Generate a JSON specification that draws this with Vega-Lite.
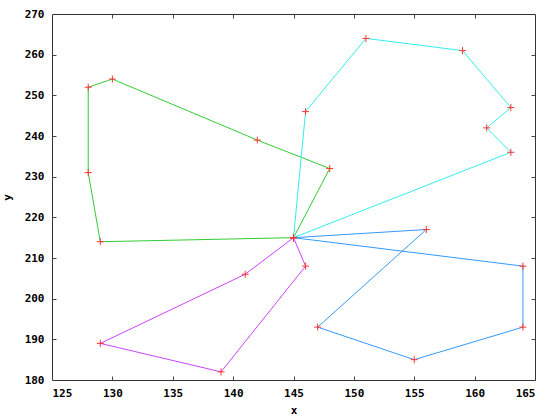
{
  "$schema": "https://vega.github.io/schema/vega-lite/v6.json",
  "autosize": "none",
  "width": 483,
  "height": 366,
  "padding": {"left": 52, "top": 14, "right": 15, "bottom": 39},
  "background": "white",
  "config": {
    "view": {"stroke": null},
    "axis": {"grid": false, "labelFont": "DejaVu Sans Mono", "labelFontWeight": "bold", "labelFontSize": 11, "labelColor": "#000", "titleFont": "DejaVu Sans Mono", "titleFontWeight": "bold", "titleFontSize": 11, "titleColor": "#000", "domainColor": "#333", "tickColor": "#444", "tickSize": 4, "domainWidth": 1}
  },
  "data": {"values": [
    {"s": "g", "o": 0, "x": 145, "y": 215},
    {"s": "g", "o": 1, "x": 148, "y": 232},
    {"s": "g", "o": 2, "x": 142, "y": 239},
    {"s": "g", "o": 3, "x": 130, "y": 254},
    {"s": "g", "o": 4, "x": 128, "y": 252},
    {"s": "g", "o": 5, "x": 128, "y": 231},
    {"s": "g", "o": 6, "x": 129, "y": 214},
    {"s": "g", "o": 7, "x": 145, "y": 215},
    {"s": "c", "o": 0, "x": 145, "y": 215},
    {"s": "c", "o": 1, "x": 146, "y": 246},
    {"s": "c", "o": 2, "x": 151, "y": 264},
    {"s": "c", "o": 3, "x": 159, "y": 261},
    {"s": "c", "o": 4, "x": 163, "y": 247},
    {"s": "c", "o": 5, "x": 161, "y": 242},
    {"s": "c", "o": 6, "x": 163, "y": 236},
    {"s": "c", "o": 7, "x": 145, "y": 215},
    {"s": "b", "o": 0, "x": 145, "y": 215},
    {"s": "b", "o": 1, "x": 156, "y": 217},
    {"s": "b", "o": 2, "x": 147, "y": 193},
    {"s": "b", "o": 3, "x": 155, "y": 185},
    {"s": "b", "o": 4, "x": 164, "y": 193},
    {"s": "b", "o": 5, "x": 164, "y": 208},
    {"s": "b", "o": 6, "x": 145, "y": 215},
    {"s": "m", "o": 0, "x": 145, "y": 215},
    {"s": "m", "o": 1, "x": 146, "y": 208},
    {"s": "m", "o": 2, "x": 139, "y": 182},
    {"s": "m", "o": 3, "x": 129, "y": 189},
    {"s": "m", "o": 4, "x": 141, "y": 206},
    {"s": "m", "o": 5, "x": 145, "y": 215}
  ]},
  "layer": [
    {
      "mark": {"type": "line", "strokeWidth": 1},
      "encoding": {
        "x": {"field": "x", "type": "quantitative", "scale": {"domain": [125, 165], "nice": false, "zero": false}, "axis": {"orient": "bottom", "values": [125,130,135,140,145,150,155,160,165], "ticks": false, "labelPadding": 7, "title": "x", "titlePadding": 6}},
        "y": {"field": "y", "type": "quantitative", "scale": {"domain": [180, 270], "nice": false, "zero": false}, "axis": {"orient": "left", "values": [180,190,200,210,220,230,240,250,260,270], "ticks": false, "labelPadding": 8, "title": "y", "titlePadding": 12}},
        "color": {"field": "s", "type": "nominal", "scale": {"domain": ["g", "c", "b", "m"], "range": ["#33cc33", "#33eeee", "#3399ff", "#cc44ff"]}, "legend": null},
        "detail": {"field": "s"},
        "order": {"field": "o", "type": "quantitative"}
      }
    },
    {
      "mark": {"type": "point", "shape": "M-1,0H1M0,-1V1", "size": 49, "stroke": "#ff3333", "strokeWidth": 1, "filled": false, "opacity": 1},
      "encoding": {
        "x": {"field": "x", "type": "quantitative", "scale": {"domain": [125, 165], "nice": false, "zero": false}, "axis": null},
        "y": {"field": "y", "type": "quantitative", "scale": {"domain": [180, 270], "nice": false, "zero": false}, "axis": null}
      }
    },
    {
      "mark": {"type": "rule", "opacity": 0},
      "encoding": {
        "x": {"field": "x", "type": "quantitative", "scale": {"domain": [125, 165], "nice": false, "zero": false}, "axis": {"orient": "top", "labels": false, "ticks": false, "title": null, "values": [125,130,135,140,145,150,155,160,165]}},
        "y": {"field": "y", "type": "quantitative", "scale": {"domain": [180, 270], "nice": false, "zero": false}, "axis": {"orient": "right", "labels": false, "ticks": false, "title": null, "values": [180,190,200,210,220,230,240,250,260,270]}}
      }
    },
    {
      "mark": {"type": "rule", "opacity": 0},
      "encoding": {
        "x": {"field": "x", "type": "quantitative", "scale": {"domain": [125, 165], "nice": false, "zero": false}, "axis": {"orient": "bottom", "offset": -4, "domain": false, "labels": false, "ticks": true, "tickColor": "#444", "tickWidth": 1, "tickSize": 4, "title": null, "values": [130,135,140,145,150,155,160]}},
        "y": {"field": "y", "type": "quantitative", "scale": {"domain": [180, 270], "nice": false, "zero": false}, "axis": {"orient": "left", "offset": -4, "domain": false, "labels": false, "ticks": true, "tickColor": "#444", "tickWidth": 1, "tickSize": 4, "title": null, "values": [190,200,210,220,230,240,250,260]}}
      }
    },
    {
      "mark": {"type": "rule", "opacity": 0},
      "encoding": {
        "x": {"field": "x", "type": "quantitative", "scale": {"domain": [125, 165], "nice": false, "zero": false}, "axis": {"orient": "top", "offset": -4, "domain": false, "labels": false, "ticks": true, "tickColor": "#444", "tickWidth": 1, "tickSize": 4, "title": null, "values": [130,135,140,145,150,155,160]}},
        "y": {"field": "y", "type": "quantitative", "scale": {"domain": [180, 270], "nice": false, "zero": false}, "axis": {"orient": "right", "offset": -4, "domain": false, "labels": false, "ticks": true, "tickColor": "#444", "tickWidth": 1, "tickSize": 4, "title": null, "values": [190,200,210,220,230,240,250,260]}}
      }
    }
  ],
  "resolve": {"axis": {"x": "independent", "y": "independent"}}
}
